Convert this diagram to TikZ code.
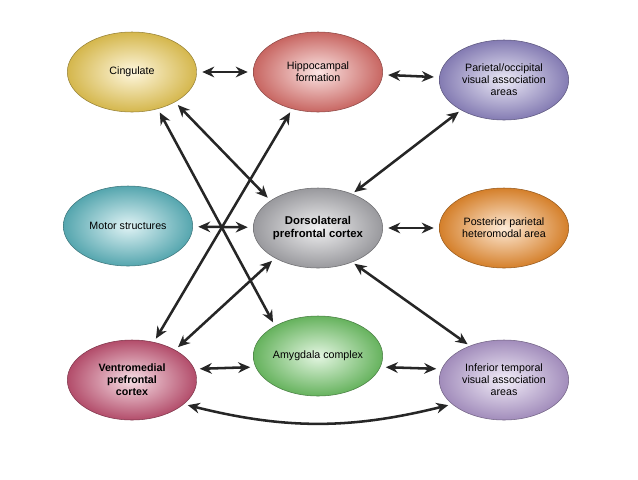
\documentclass[tikz,border=0pt]{standalone}
\usepackage{fontspec}
\setmainfont{Liberation Sans}
\usetikzlibrary{shapes.geometric,arrows.meta}
\begin{document}
\begin{tikzpicture}[x=0.75pt,y=-0.75pt,
  area/.style={ellipse,draw=#1!60!black,line width=0.4pt,inner color=#1!20,outer color=#1!85!black,minimum width=97pt,minimum height=60pt,align=center,font=\fontsize{8}{9}\selectfont,inner sep=0pt},
  link/.style={{Stealth[length=9pt,width=8pt]}-{Stealth[length=9pt,width=8pt]},line width=1.9pt,black!85},
]
\useasboundingbox (0,0) rectangle (638,479);
\definecolor{cy}{RGB}{250,215,90}
\definecolor{hp}{RGB}{235,120,115}
\definecolor{po}{RGB}{155,145,210}
\definecolor{mo}{RGB}{100,195,205}
\definecolor{dl}{RGB}{180,180,185}
\definecolor{pp}{RGB}{250,150,50}
\definecolor{vm}{RGB}{210,90,125}
\definecolor{am}{RGB}{120,210,110}
\definecolor{it}{RGB}{190,165,220}
\node[area=cy] (cing) at (132,72) {Cingulate};
\node[area=hp] (hipp) at (318,72) {Hippocampal\\formation};
\node[area=po] (par) at (504,80) {Parietal/occipital\\visual association\\areas};
\node[area=mo] (mot) at (128,226) {Motor structures};
\node[area=dl,font=\fontsize{8.5}{10}\selectfont\bfseries] (dlp) at (318,228) {Dorsolateral\\prefrontal cortex};
\node[area=pp] (ppar) at (504,228) {Posterior parietal\\heteromodal area};
\node[area=vm,font=\fontsize{8}{9}\selectfont\bfseries] (vm) at (132,380) {Ventromedial\\prefrontal\\cortex};
\node[area=am] (amy) at (318,356) {Amygdala complex};
\node[area=it] (it) at (504,380) {Inferior temporal\\visual association\\areas};
\draw[link,shorten <=4pt,shorten >=4pt] (cing) -- (hipp);
\draw[link,shorten <=4pt,shorten >=4pt] (hipp) -- (par);
\draw[link,shorten <=2pt,shorten >=2pt] (par.-145) -- (dlp.45);
\draw[link,shorten <=4pt,shorten >=4pt] (mot) -- (dlp);
\draw[link,shorten <=4pt,shorten >=4pt] (dlp) -- (ppar);
\draw[link,shorten <=2pt,shorten >=2pt] (dlp.-45) -- (it.135);
\draw[link,shorten <=3pt,shorten >=3pt] (cing.-35) -- (dlp.150);
\draw[link,shorten <=3pt,shorten >=3pt] (cing.-55) -- (amy.145);
\draw[link,shorten <=3pt,shorten >=3pt] (vm.60) -- (hipp.-125);
\draw[link,shorten <=3pt,shorten >=3pt] (vm.35) -- (dlp.-145);
\draw[link,shorten <=4pt,shorten >=4pt] (vm.10) -- (amy.-170);
\draw[link,shorten <=4pt,shorten >=4pt] (amy.-10) -- (it.170);
\draw[link,shorten <=3pt,shorten >=3pt] (vm.-25) to[bend right=14] (it.-155);
\end{tikzpicture}
\end{document}
